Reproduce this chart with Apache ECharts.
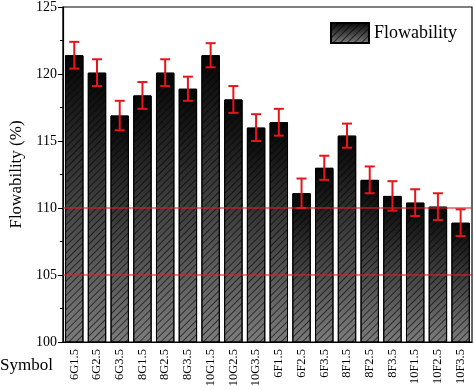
<!DOCTYPE html>
<html><head><meta charset="utf-8">
<script src="https://cdn.jsdelivr.net/npm/echarts@6/dist/echarts.min.js"></script>
<style>html,body{margin:0;padding:0;background:#fff}#c{width:474px;height:390px}</style>
</head><body><div id="c"></div>
<script>
const categories = ['6G1.5','6G2.5','6G3.5','8G1.5','8G2.5','8G3.5','10G1.5','10G2.5','10G3.5','6F1.5','6F2.5','6F3.5','8F1.5','8F2.5','8F3.5','10F1.5','10F2.5','10F3.5'];
const flowability = [121.4,120.1,116.9,118.4,120.1,118.9,121.4,118.1,116.0,116.4,111.1,113.0,115.4,112.1,110.9,110.4,110.1,108.9];
const errors = [1.0,1.0,1.1,1.0,1.0,0.9,0.9,1.0,1.0,1.0,1.1,0.9,0.9,1.0,1.1,1.0,1.0,1.0];
const refLines = [110,105];
const yTicks = {min:100,max:125,interval:5};

const chart = echarts.init(document.getElementById('c'));
const serif = 'Liberation Serif';
const barColor = {type:'linear',x:0,y:0,x2:0,y2:1,colorStops:[{offset:0,color:'#050505'},{offset:1,color:'#7c7c7c'}]};
chart.setOption({
  animation:false,
  textStyle:{fontFamily:serif},
  grid:{left:53,right:2,top:6,bottom:48,show:true,borderColor:'#000',borderWidth:1.2,backgroundColor:'transparent'},
  legend:{right:12,top:17,itemWidth:38,itemHeight:20,itemGap:6,icon:'rect',
    textStyle:{fontFamily:serif,fontSize:18,color:'#000'},data:['Flowability']},
  xAxis:{type:'category',data:categories,
    axisLine:{lineStyle:{color:'#000',width:1.2}},
    axisTick:{alignWithLabel:true,length:4,lineStyle:{color:'#000'}},
    axisLabel:{rotate:90,fontSize:12.5,color:'#000',fontFamily:serif,margin:7,interval:0}},
  yAxis:{type:'value',min:yTicks.min,max:yTicks.max,interval:yTicks.interval,
    name:'Flowability (%)',nameLocation:'middle',nameGap:33,
    nameTextStyle:{fontSize:17,color:'#000',fontFamily:serif},
    axisLine:{show:true,lineStyle:{color:'#000',width:1.2}},
    axisTick:{show:true,length:5,lineStyle:{color:'#000'}},
    minorTick:{show:true,splitNumber:2,length:3,lineStyle:{color:'#000'}},
    splitLine:{show:false},
    axisLabel:{fontSize:14,color:'#000',fontFamily:serif,margin:6}},
  graphic:[{type:'text',left:0,top:357,style:{text:'Symbol',font:'17px "Liberation Serif"',fill:'#000'}}],
  series:[
    {name:'Flowability',type:'bar',data:flowability,barWidth:'81%',
      itemStyle:{color:barColor,borderColor:'#000',borderWidth:1,
        decal:{symbol:'rect',symbolSize:1,dashArrayX:[1,0],dashArrayY:[1,4],rotation:-Math.PI/4,color:'rgba(0,0,0,0.6)'}},
      markLine:{silent:true,symbol:['none','none'],label:{show:false},z:10,
        lineStyle:{color:'rgba(225,30,40,0.75)',width:1.5,type:'solid'},
        data:refLines.map(v=>({yAxis:v}))}},
    {type:'custom',name:'err',z:5,
      data:flowability.map((v,i)=>[i,v-errors[i],v+errors[i]]),
      renderItem:function(params,api){
        const lo=api.coord([api.value(0),api.value(1)]);
        const hi=api.coord([api.value(0),api.value(2)]);
        const hw=5;
        const st={stroke:'#e8141c',lineWidth:2};
        return {type:'group',children:[
          {type:'line',shape:{x1:hi[0],y1:hi[1],x2:lo[0],y2:lo[1]},style:st},
          {type:'line',shape:{x1:hi[0]-hw,y1:hi[1],x2:hi[0]+hw,y2:hi[1]},style:st},
          {type:'line',shape:{x1:lo[0]-hw,y1:lo[1],x2:lo[0]+hw,y2:lo[1]},style:st}
        ]};
      }}
  ]
});
</script></body></html>
